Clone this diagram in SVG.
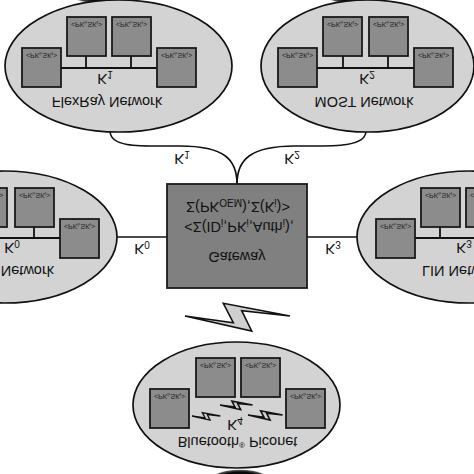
<svg xmlns="http://www.w3.org/2000/svg" width="474" height="474" viewBox="0 0 474 474">
<defs>
<style>
text{font-family:"Liberation Sans",Arial,sans-serif;fill:#111}
.net{fill:#d3d3d3;stroke:#111;stroke-width:1.7}
.box{fill:#8c8c8c;stroke:#1a1a1a;stroke-width:1.8}
.gw{fill:#808080;stroke:#1a1a1a;stroke-width:1.8}
.bus{fill:none;stroke:#111;stroke-width:1.8}
.wire{fill:none;stroke:#111;stroke-width:1.6}
.bolt{fill:#cfcfcf;stroke:#111;stroke-width:1.6;stroke-linejoin:miter}
.lbl{font-size:14.5px;text-anchor:middle}
.klbl{font-size:15px;text-anchor:middle}
.bl{font-size:7px;text-anchor:middle;fill:#222}
</style>
<radialGradient id="blob" cx="0.5" cy="0.5" r="0.5">
<stop offset="0" stop-color="#000"/>
<stop offset="0.7" stop-color="#0a0a0a"/>
<stop offset="0.88" stop-color="#555"/>
<stop offset="1" stop-color="#fff" stop-opacity="0"/>
</radialGradient>
<path id="bolt" d="M0,0 L48.3,-6.7 L38.3,12.7 L105,0 L56.7,5.3 L66.7,-15 Z"/>
<g id="pksk"><rect class="box" x="0" y="0" width="39" height="39"/><text class="bl" x="19.5" y="34">&lt;PK<tspan dy="1.5" font-size="5">i</tspan><tspan dy="-1.5">,SK</tspan><tspan dy="1.5" font-size="5">i</tspan><tspan dy="-1.5">&gt;</tspan></text></g>
</defs>
<rect width="474" height="474" fill="#fff"/>
<g transform="matrix(1 0 0 -1 0 474)">
<g id="blobs">
<ellipse cx="104" cy="481" rx="36" ry="12" fill="url(#blob)"/>
<ellipse cx="355" cy="481" rx="33" ry="12" fill="url(#blob)"/>
<ellipse cx="240" cy="-5" rx="30" ry="10" fill="url(#blob)"/>
</g>
<g id="connectors">
<path class="wire" d="M110,342 C112,326 140,328 180,328 C225,328 237,314 237,290"/>
<path class="wire" d="M366,342 C364,326 330,328 295,328 C250,328 237,314 237,290"/>
<line class="wire" x1="117" y1="237" x2="167" y2="237"/>
<line class="wire" x1="307" y1="237" x2="357" y2="237"/>
<use href="#bolt" class="bolt" transform="translate(185,158)"/>
<text class="klbl" x="182" y="320">K<tspan dy="3" font-size="10">1</tspan></text>
<text class="klbl" x="292" y="320">K<tspan dy="3" font-size="10">2</tspan></text>
<text class="klbl" x="142" y="230">K<tspan dy="3" font-size="10">0</tspan></text>
<text class="klbl" x="333" y="230">K<tspan dy="3" font-size="10">3</tspan></text>
</g>
<g id="flexray">
<ellipse class="net" cx="118.5" cy="408" rx="113.5" ry="66"/>
<path class="bus" d="M61,406 H157 M86,406 V418 M131,406 V418"/>
<use href="#pksk" x="22" y="387"/>
<use href="#pksk" x="67" y="418"/>
<use href="#pksk" x="112" y="418"/>
<use href="#pksk" x="157" y="387"/>
<text class="klbl" x="105" y="400">K<tspan dy="3" font-size="10">1</tspan></text>
<text class="lbl" x="107" y="377">FlexRay Network</text>
</g>
<g id="most">
<ellipse class="net" cx="367.5" cy="408" rx="106.5" ry="66"/>
<path class="bus" d="M317,406 H414 M343,406 V418 M388,406 V418"/>
<use href="#pksk" x="278" y="387"/>
<use href="#pksk" x="323" y="418"/>
<use href="#pksk" x="369" y="418"/>
<use href="#pksk" x="414" y="387"/>
<text class="klbl" x="367" y="400">K<tspan dy="3" font-size="10">2</tspan></text>
<text class="lbl" x="364" y="377">MOST Network</text>
</g>
<g id="can">
<ellipse class="net" cx="4" cy="237" rx="113" ry="66"/>
<path class="bus" d="M-38,236 H60 M-12,236 V247 M34,236 V247"/>
<use href="#pksk" x="-77" y="216"/>
<use href="#pksk" x="-32" y="247"/>
<use href="#pksk" x="15" y="247"/>
<use href="#pksk" x="60" y="216"/>
<text class="klbl" x="12" y="231">K<tspan dy="3" font-size="10">0</tspan></text>
<text class="lbl" x="54" y="208" style="text-anchor:end">CAN Network</text>
</g>
<g id="lin">
<ellipse class="net" cx="470" cy="237" rx="113" ry="66"/>
<path class="bus" d="M415,236 H511 M440,236 V247 M485,236 V247"/>
<use href="#pksk" x="376" y="216"/>
<use href="#pksk" x="421" y="247"/>
<use href="#pksk" x="466" y="247"/>
<use href="#pksk" x="511" y="216"/>
<text class="klbl" x="464" y="231">K<tspan dy="3" font-size="10">3</tspan></text>
<text class="lbl" x="422" y="208" style="text-anchor:start">LIN Network</text>
</g>
<g id="gateway">
<rect class="gw" x="167" y="186" width="140" height="104"/>
<text class="lbl" x="237" y="222">Gateway</text>
<text class="lbl" x="239" y="252">&lt;Σ(ID<tspan dy="3" font-size="10">i</tspan><tspan dy="-3">,PK</tspan><tspan dy="3" font-size="10">i</tspan><tspan dy="-3">,Auth</tspan><tspan dy="3" font-size="10">i</tspan><tspan dy="-3">),</tspan></text>
<text class="lbl" x="238" y="272">Σ(PK<tspan dy="3" font-size="10">OEM</tspan><tspan dy="-3">),Σ(K</tspan><tspan dy="3" font-size="10">i</tspan><tspan dy="-3">)&gt;</tspan></text>
</g>
<g id="bluetooth">
<ellipse class="net" cx="236.5" cy="69" rx="103.5" ry="63"/>
<use href="#pksk" x="150" y="46"/>
<use href="#pksk" x="196" y="77"/>
<use href="#pksk" x="241" y="77"/>
<use href="#pksk" x="286" y="46"/>
<use href="#bolt" class="bolt" transform="translate(192,58) scale(0.27)" style="stroke-width:5"/>
<use href="#bolt" class="bolt" transform="translate(220,69) scale(0.31)" style="stroke-width:5"/>
<use href="#bolt" class="bolt" transform="translate(248,59) scale(0.33)" style="stroke-width:5"/>
<text class="klbl" x="235" y="54">K<tspan dy="3" font-size="10">4</tspan></text>
<text class="lbl" x="237.5" y="37">Bluetooth<tspan dy="-5" font-size="8">®</tspan><tspan dy="5"> Piconet</tspan></text>
</g>
</g>
</svg>
